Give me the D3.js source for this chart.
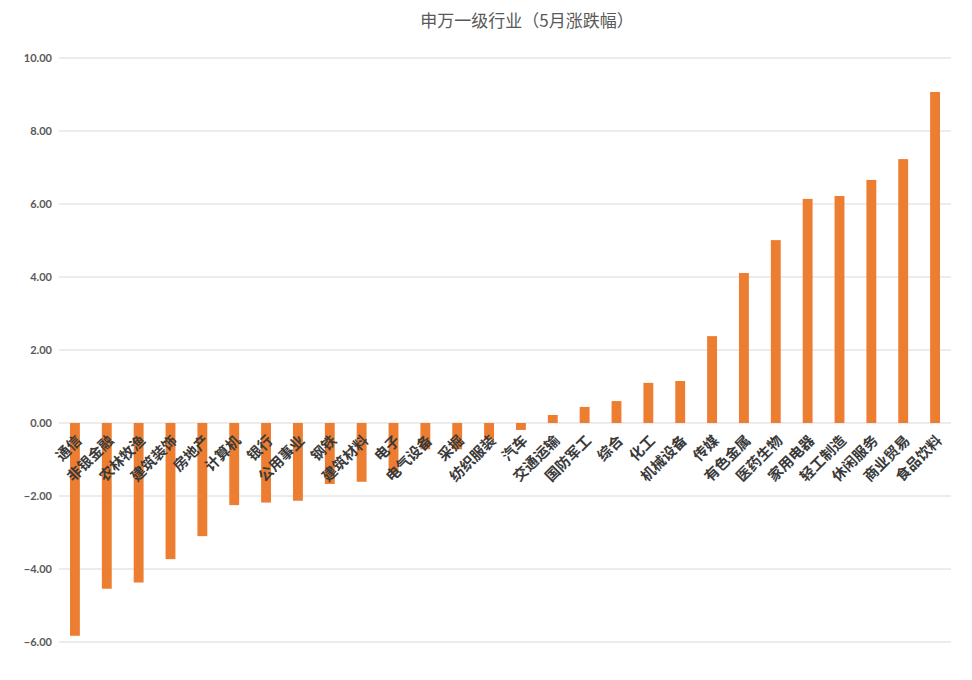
<!DOCTYPE html>
<html>
<head>
<meta charset="utf-8">
<script src="https://cdn.jsdelivr.net/npm/d3@7"></script>
<style>
  html, body { margin: 0; padding: 0; background: #fff; }
  svg { display: block; }
</style>
</head>
<body>
<svg id="chart" width="972" height="680"></svg>
<script>
const title = "申万一级行业（5月涨跌幅）";
const categories = ["通信","非银金融","农林牧渔","建筑装饰","房地产","计算机","银行","公用事业","钢铁","建筑材料","电子","电气设备","采掘","纺织服装","汽车","交通运输","国防军工","综合","化工","机械设备","传媒","有色金属","医药生物","家用电器","轻工制造","休闲服务","商业贸易","食品饮料"];
const values = [-5.83,-4.54,-4.37,-3.73,-3.10,-2.25,-2.18,-2.13,-1.67,-1.61,-1.36,-0.72,-0.72,-0.45,-0.19,0.22,0.44,0.60,1.10,1.15,2.38,4.11,5.01,6.14,6.22,6.66,7.23,9.07];
const yTicks = [-6,-4,-2,0,2,4,6,8,10];

const svg = d3.select("#chart");
const plotLeft = 59, plotRight = 951, plotTop = 58, plotBottom = 642;

const x = d3.scaleBand().domain(categories).range([plotLeft, plotRight]).paddingInner(0.69).paddingOuter(0.345);
const y = d3.scaleLinear().domain([-6, 10]).range([plotBottom, plotTop]);

// gridlines
svg.append("g").selectAll("line").data(yTicks).join("line")
  .attr("x1", plotLeft).attr("x2", plotRight)
  .attr("y1", d => y(d)).attr("y2", d => y(d))
  .attr("stroke", "#d9d9d9").attr("stroke-width", 1);

// y axis labels
const yAxis = d3.axisLeft(y).tickValues(yTicks).tickFormat(d3.format(".2f")).tickSize(0).tickPadding(7);
const ya = svg.append("g").attr("transform", `translate(${plotLeft},0)`).call(yAxis);
ya.select(".domain").remove();
ya.selectAll("text")
  .attr("font-family", "Lato, 'Noto Sans', sans-serif")
  .attr("font-size", 11).attr("font-weight", "bold").attr("fill", "#595959");

// bars
svg.append("g").selectAll("rect").data(values).join("rect")
  .attr("x", (d, i) => x(categories[i]))
  .attr("width", x.bandwidth())
  .attr("y", d => y(Math.max(0, d)))
  .attr("height", d => Math.abs(y(d) - y(0)))
  .attr("fill", "#ed7d31");

// category labels
svg.append("g").selectAll("text").data(categories).join("text")
  .attr("transform", d => `translate(${x(d) + x.bandwidth() / 2 + 3},${y(0) + 14}) rotate(-45)`)
  .attr("text-anchor", "end")
  .attr("dominant-baseline", "central")
  .attr("font-family", "'Noto Sans CJK SC', sans-serif")
  .attr("font-size", 14.5).attr("font-weight", "bold").attr("fill", "#3a3a3a")
  .text(d => d);

// title
svg.append("text")
  .attr("x", 527).attr("y", 27)
  .attr("text-anchor", "middle")
  .attr("font-family", "'Noto Sans CJK SC', sans-serif")
  .attr("font-size", 17).attr("fill", "#595959")
  .text(title);
</script>
</body>
</html>
